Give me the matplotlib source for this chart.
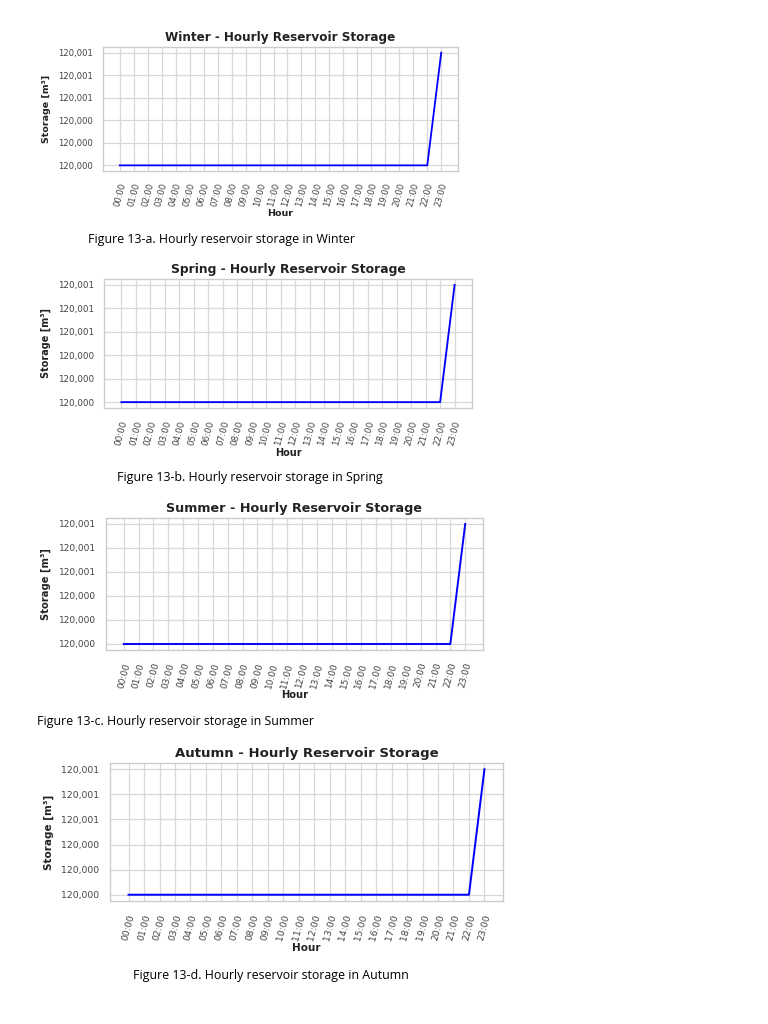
import numpy as np
import matplotlib
matplotlib.use("Agg")
from matplotlib import pyplot as plt
from matplotlib.ticker import StrMethodFormatter

seasons = ["Winter", "Spring", "Summer", "Autumn"]
fig_letters = ["a", "b", "c", "d"]
hours = ["%02d:00" % h for h in range(24)]
# storage [m3] per hour, same for every season
winter_storage = [120000] * 23 + [120001]
spring_storage = [120000] * 23 + [120001]
summer_storage = [120000] * 23 + [120001]
autumn_storage = [120000] * 23 + [120001]
storages = [winter_storage, spring_storage, summer_storage, autumn_storage]

W, H = 768, 1024
# pixel boxes of the four plots: left, right, top, bottom
boxes = [(103, 458, 47, 171), (104, 472, 279, 408),
         (106, 483, 518, 650), (110, 503, 763, 901)]
scales = [1.0, 1.03, 1.06, 1.10]
captions_xy = [(88, 240), (117, 478), (37, 721), (133, 975)]

plt.rcParams['font.family'] = 'DejaVu Sans'
fig = plt.figure(figsize=(W / 100, H / 100), dpi=100)
fig.patch.set_facecolor('white')

for i in range(4):
    l, r, t, b = boxes[i]
    s = scales[i]
    ax = fig.add_axes([l / W, 1 - b / H, (r - l) / W, (b - t) / H])
    x = np.arange(len(hours))
    ax.plot(x, storages[i], color='blue', lw=1.3 * s)
    ax.set_xticks(x)
    ax.set_xticklabels(hours, rotation=75, fontsize=6.1 * s, color='#444444')
    ax.yaxis.set_major_formatter(StrMethodFormatter('{x:,.0f}'))
    ax.tick_params(axis='y', labelsize=6.1 * s, colors='#444444', length=0, pad=7 * s)
    ax.tick_params(axis='x', length=0, pad=8 * s)
    ax.set_xlim(-1.2, 24.2)
    ax.grid(True, color='#d8d8d8', lw=0.9)
    ax.set_axisbelow(True)
    for sp in ax.spines.values():
        sp.set_color('#cccccc')
        sp.set_linewidth(1.0)
    ax.set_title(seasons[i] + " - Hourly Reservoir Storage", fontsize=8.66 * s,
                 fontweight='bold', color='#222222', pad=4)
    ax.set_xlabel("Hour", fontsize=6.8 * s, fontweight='bold', color='#222222', labelpad=1)
    ax.set_ylabel("Storage [m³]", fontsize=6.8 * s, fontweight='bold', color='#222222', labelpad=5 * s)
    cx, cy = captions_xy[i]
    fig.text(cx / W, 1 - cy / H, "Figure 13-%s. Hourly reservoir storage in %s" % (fig_letters[i], seasons[i]),
             fontsize=8.9, family='Open Sans', va='center', ha='left', color='black')

plt.savefig("out.png", dpi=100)
